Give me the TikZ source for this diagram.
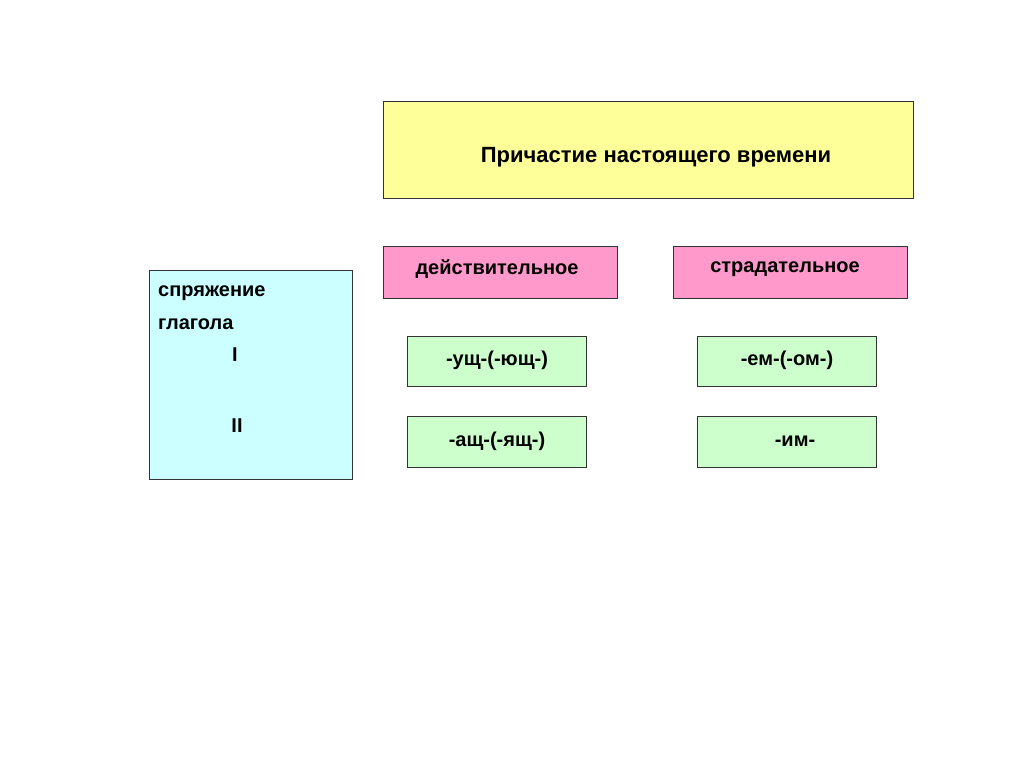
\documentclass[tikz,border=0pt]{standalone}
\usepackage{fontspec}
\setmainfont{Liberation Sans}
\definecolor{yel}{HTML}{FFFF99}
\definecolor{pnk}{HTML}{FF99CC}
\definecolor{cyn}{HTML}{CCFFFF}
\definecolor{grn}{HTML}{CCFFCC}
\begin{document}
\begin{tikzpicture}[x=1pt,y=-1pt,
 box/.style={draw=black!80,line width=0.8pt},
 lbl/.style={font=\bfseries\fontsize{20}{24}\selectfont,inner sep=0pt}]
\useasboundingbox (0,0) rectangle (1024,768);
\draw[box,fill=yel] (383,101) rectangle (913,198);
\node[lbl,font=\bfseries\fontsize{22}{26}\selectfont] (t) at (656,157) {Причастие настоящего времени};
\draw[box,fill=pnk] (383,246) rectangle (617,298);
\node[lbl] (d) at (497,269) {действительное};
\draw[box,fill=pnk] (673,246) rectangle (907,298);
\node[lbl] (s) at (785,269) {страдательное};
\draw[box,fill=cyn] (149,270) rectangle (352,479);
\node[lbl,anchor=west] (sp) at (158,293) {спряжение};
\node[lbl,anchor=west] (gl) at (158,324) {глагола};
\node[lbl] (i1) at (235,355) {I};
\node[lbl] (i2) at (237,426) {II};
\draw[box,fill=grn] (407,336) rectangle (586,386);
\node[lbl] (a) at (497,360) {-ущ-(-ющ-)};
\draw[box,fill=grn] (407,416) rectangle (586,467);
\node[lbl] (b) at (497,441) {-ащ-(-ящ-)};
\draw[box,fill=grn] (697,336) rectangle (876,386);
\node[lbl] (c) at (787,360) {-ем-(-ом-)};
\draw[box,fill=grn] (697,416) rectangle (876,467);
\node[lbl] (e) at (795,441) {-им-};
\end{tikzpicture}
\end{document}
